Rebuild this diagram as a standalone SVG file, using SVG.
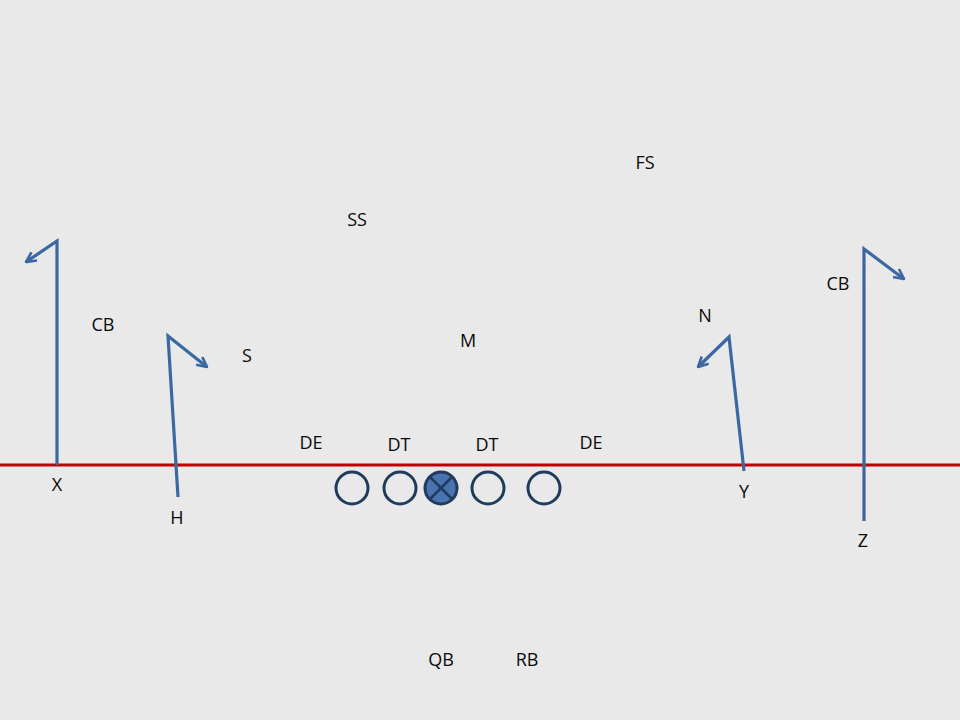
<svg xmlns="http://www.w3.org/2000/svg" width="960" height="720" viewBox="0 0 960 720">
<defs>
<marker id="arr" viewBox="0 0 12 12" refX="11" refY="6" markerWidth="12" markerHeight="12" markerUnits="userSpaceOnUse" orient="auto">
<path d="M1,1 L11,6 L1,11" fill="none" stroke="#3b68a3" stroke-width="2.6" stroke-linejoin="miter"/>
</marker>
<style>
.route{fill:none;stroke:#3b68a3;stroke-width:3.2;stroke-linejoin:miter;marker-end:url(#arr)}
.lbl{font-family:"Open Sans","Liberation Sans",sans-serif;font-size:18px;fill:#0a0a0a;text-anchor:middle}
.ol{fill:none;stroke:#1f3b5e;stroke-width:3}
</style>
</defs>
<rect width="960" height="720" fill="#e9e9e9"/>
<g id="los"><line x1="0" y1="465" x2="960" y2="465" stroke="#c00000" stroke-width="3"/></g>
<g id="connectors">
<path class="route" d="M57,465 L57,241 L26,262"/>
<path class="route" d="M178,497 L168,336 L207,367"/>
<path class="route" d="M744,471 L729,337 L698,367"/>
<path class="route" d="M864,521 L864,249 L904,279"/>
</g>
<g id="oline">
<circle class="ol" cx="352" cy="488" r="16"/>
<circle class="ol" cx="400" cy="488" r="16"/>
<g id="center"><circle cx="441" cy="488" r="16" fill="#4a74b0" stroke="#1f3b5e" stroke-width="3"/>
<line x1="430" y1="477" x2="452" y2="499" stroke="#1f3b5e" stroke-width="2.5"/>
<line x1="452" y1="477" x2="430" y2="499" stroke="#1f3b5e" stroke-width="2.5"/></g>
<circle class="ol" cx="488" cy="488" r="16"/>
<circle class="ol" cx="544" cy="488" r="16"/>
</g>
<g id="labels">
<g id="FS"><text class="lbl" x="645" y="169">FS</text></g>
<g id="SS"><text class="lbl" x="357" y="226">SS</text></g>
<g id="CBL"><text class="lbl" x="103" y="331">CB</text></g>
<g id="S"><text class="lbl" x="247" y="362">S</text></g>
<g id="M"><text class="lbl" x="468" y="347">M</text></g>
<g id="N"><text class="lbl" x="705" y="322">N</text></g>
<g id="CBR"><text class="lbl" x="838" y="290">CB</text></g>
<g id="DE1"><text class="lbl" x="311" y="449">DE</text></g>
<g id="DT1"><text class="lbl" x="399" y="451">DT</text></g>
<g id="DT2"><text class="lbl" x="487" y="451">DT</text></g>
<g id="DE2"><text class="lbl" x="591" y="449">DE</text></g>
<g id="X"><text class="lbl" x="57" y="491">X</text></g>
<g id="H"><text class="lbl" x="177" y="524">H</text></g>
<g id="Y"><text class="lbl" x="744" y="498">Y</text></g>
<g id="Z"><text class="lbl" x="863" y="547">Z</text></g>
<g id="QB"><text class="lbl" x="441" y="666">QB</text></g>
<g id="RB"><text class="lbl" x="527" y="666">RB</text></g>
</g>
</svg>
